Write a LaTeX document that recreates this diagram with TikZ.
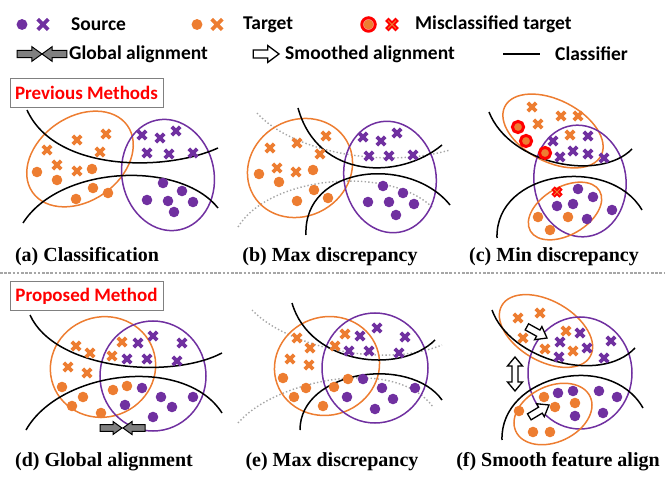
\documentclass[tikz,border=0pt]{standalone}
\usepackage{fontspec}
\setmainfont{Liberation Serif}
\newfontfamily\calfont{Carlito}
\definecolor{pur}{HTML}{7030A0}
\definecolor{org}{HTML}{ED7D31}
\definecolor{sep}{HTML}{A6A6A6}
\tikzset{
  dotm/.pic={\fill[#1] (0,0) circle[radius=5.3];},
  crossm/.pic={\draw[#1, line width=3.8pt] (-4.2,-4.2) -- (4.2,4.2) (-4.2,4.2) -- (4.2,-4.2);},
  ringm/.pic={\fill[org] (0,0) circle[radius=4.2]; \draw[red, line width=3pt] (0,0) circle[radius=5.6];},
  rcrossm/.pic={\draw[red, line width=4.8pt] (-4,-4) -- (4,4) (-4,4) -- (4,-4);
                \draw[org, line width=1pt] (-3,-3) -- (3,3) (-3,3) -- (3,-3);},
  garrow/.pic={\draw[line width=1pt, fill=gray] (0,0) -- (-9,-6.5) -- (-9,-3.3) -- (-22,-3.3) -- (-22,3.3) -- (-9,3.3) -- (-9,6.5) -- cycle;},
  oarrow/.pic={\draw[line width=1.3pt, fill=white] (0,0) -- (-10,-7.5) -- (-10,-3.5) -- (-23,-3.5) -- (-23,3.5) -- (-10,3.5) -- (-10,7.5) -- cycle;},
  odarrow/.pic={\draw[line width=1.3pt, fill=white] (0,-17) -- (7.5,-8) -- (3,-8) -- (3,8) -- (7.5,8) -- (0,17) -- (-7.5,8) -- (-3,8) -- (-3,-8) -- (-7.5,-8) -- cycle;},
}
\begin{document}
\begin{tikzpicture}[x=1pt,y=-1pt,
  cls/.style={line width=1.5pt, black},
  dots/.style={line width=1.4pt, sep, dash pattern=on 1.4pt off 2.2pt},
  oell/.style={org, line width=1.5pt},
  pell/.style={pur, line width=1.5pt},
  lbl/.style={font=\calfont\bfseries\fontsize{19.5}{23}\selectfont, anchor=west, inner sep=0},
  captxt/.style={font=\bfseries\fontsize{20}{24}\selectfont, inner sep=0},
  titlebox/.style={draw=gray, line width=0.8pt, minimum width=153, minimum height=29, inner sep=0,
     font=\calfont\bfseries\fontsize{19}{22}\selectfont, text=red}]
\useasboundingbox (0,0) rectangle (665,500);

% ---------- legend ----------
\pic[scale=1.03] at (22,24.5) {dotm=pur};
\pic[scale=1.25] at (43,24.5) {crossm=pur};
\node[lbl] (lsrc) at (71,24.5) {Source};
\pic[scale=1.03] at (197,24.5) {dotm=org};
\pic[scale=1.25] at (217,24.5) {crossm=org};
\node[lbl] (ltgt) at (243,24.5) {Target};
\pic[scale=1.2] at (368.5,24.5) {ringm};
\pic[scale=1.3] at (392,24.5) {rcrossm};
\node[lbl] (lmis) at (415,24.5) {Misclassified target};
\pic[scale=1.13] at (42,54) {garrow};
\pic[scale=1.13, rotate=180] at (42,54) {garrow};
\node[lbl] (lglob) at (69,54) {Global alignment};
\pic[scale=1.12] at (279,54) {oarrow};
\node[lbl] (lsmo) at (285,54) {Smoothed alignment};
\coordinate (lc1) at (503,54);
\coordinate (lc2) at (540,54);
\draw[line width=2pt] (lc1) -- (lc2);
\node[lbl] (lcls) at (555,54) {Classifier};

% ---------- boxes and separator ----------
\node[titlebox] (prev) at (86.5,92.5) {Previous Methods};
\node[titlebox] (prop) at (86.5,296) {Proposed Method};
\coordinate (s1) at (0,273);
\coordinate (s2) at (665,273);
\draw[line width=2.6pt, sep, dash pattern=on 2.6pt off 1.6pt] (s1) -- (s2);

% ---------- (a) ----------
\draw[oell, rotate around={35:(80,159)}] (80,159) ellipse[x radius=58, y radius=42];
\draw[pell, rotate around={12:(168,175)}] (168,175) ellipse[x radius=46, y radius=56];
\draw[cls] (27,110) .. controls (55,172) and (165,172) .. (218,148);
\draw[cls] (23,223) .. controls (60,165) and (180,160) .. (218,208);
\foreach \x/\y in {47/150, 77/140, 106/134, 100/152, 57/165, 77/171} \pic at (\x,\y) {crossm=org};
\foreach \x/\y in {37/172, 57/180, 92/169, 76/199, 93/188, 108/193} \pic at (\x,\y) {dotm=org};
\foreach \x/\y in {142/135, 160/138, 176/131, 147/153, 169/154, 193/153} \pic at (\x,\y) {crossm=pur};
\foreach \x/\y in {163/183, 182/191, 147/200, 168/201, 193/202, 174/212} \pic at (\x,\y) {dotm=pur};
\node[captxt] (capa) at (87,257) {(a) Classification};

% ---------- (b) ----------
\draw[dots] (257,113) .. controls (290,150) and (380,170) .. (450,150);
\draw[dots] (238,227) .. controls (270,175) and (390,165) .. (433,208);
\draw[oell, rotate around={30:(300,168)}] (300,168) ellipse[x radius=54, y radius=48];
\draw[pell, rotate around={10:(390,177)}] (390,177) ellipse[x radius=46, y radius=56];
\draw[cls] (298,108) .. controls (318,180) and (400,180) .. (442,145);
\draw[cls] (306,235) .. controls (303,165) and (410,155) .. (450,205);
\foreach \x/\y in {270/148, 297/143, 326/136, 320/154, 277/168, 296/172} \pic at (\x,\y) {crossm=org};
\foreach \x/\y in {259/174, 279/182, 313/170, 314/190, 297/201, 328/198} \pic at (\x,\y) {dotm=org};
\foreach \x/\y in {363/137, 381/141, 397/133, 369/156, 389/156, 413/155} \pic at (\x,\y) {crossm=pur};
\foreach \x/\y in {383/186, 403/193, 368/202, 389/202, 414/204, 396/215} \pic at (\x,\y) {dotm=pur};
\node[captxt] (capb) at (330,257) {(b) Max discrepancy};

% ---------- (c) ----------
\draw[oell, rotate around={-27:(553,131)}] (553,131) ellipse[x radius=54, y radius=31];
\draw[pell, rotate around={8:(580,181)}] (580,181) ellipse[x radius=46, y radius=56];
\draw[oell, rotate around={30:(565,211)}] (565,211) ellipse[x radius=40, y radius=24];
\draw[cls] (489,112) .. controls (510,165) and (600,182) .. (632,149);
\draw[cls] (497,238) .. controls (495,170) and (610,155) .. (642,210);
\foreach \x/\y in {532/107, 538/124, 561/116, 578/116, 570/135} \pic at (\x,\y) {crossm=org};
\foreach \x/\y in {518/127, 526/141, 545/153} \pic at (\x,\y) {ringm};
\foreach \x/\y in {553/141, 588/136, 573/151, 560/157, 588/154, 604/158} \pic at (\x,\y) {crossm=pur};
\pic at (557,192) {rcrossm};
\foreach \x/\y in {578/189, 593/197, 557/206, 573/204, 612/210, 587/219} \pic at (\x,\y) {dotm=pur};
\foreach \x/\y in {538/217, 568/217, 550/230} \pic at (\x,\y) {dotm=org};
\node[captxt] (capc) at (554,257) {(c) Min discrepancy};

% ---------- (d) ----------
\draw[oell, rotate around={20:(103,367)}] (103,367) ellipse[x radius=53, y radius=50];
\draw[pell] (153,376) ellipse[x radius=53, y radius=55];
\draw[cls] (30,315) .. controls (55,370) and (170,380) .. (222,353);
\draw[cls] (26,430) .. controls (60,370) and (185,355) .. (222,413);
\foreach \x/\y in {76/346, 90/353, 68/367, 87/373, 122/342, 112/356} \pic at (\x,\y) {crossm=org};
\foreach \x/\y in {62/387, 83/397, 72/406, 101/413, 113/390, 127/386} \pic at (\x,\y) {dotm=org};
\foreach \x/\y in {138/343, 153/336, 182/343, 127/359, 147/359, 177/361} \pic at (\x,\y) {crossm=pur};
\foreach \x/\y in {142/388, 161/397, 193/397, 125/405, 172/407, 153/417} \pic at (\x,\y) {dotm=pur};
\pic at (122,428) {garrow};
\pic[rotate=180] at (123,428) {garrow};
\node[captxt] (capd) at (104,462) {(d) Global alignment};

% ---------- (e) ----------
\draw[dots] (252,310) .. controls (285,345) and (380,370) .. (442,345);
\draw[dots] (238,423) .. controls (275,380) and (395,355) .. (433,407);
\draw[oell, rotate around={20:(327,366)}] (327,366) ellipse[x radius=53, y radius=49];
\draw[pell] (375,368) ellipse[x radius=53, y radius=55];
\draw[cls] (292,303) .. controls (310,365) and (400,375) .. (435,340);
\draw[cls] (300,430) .. controls (300,370) and (410,355) .. (442,400);
\foreach \x/\y in {297/338, 310/348, 290/359, 309/365, 345/334, 335/346} \pic at (\x,\y) {crossm=org};
\foreach \x/\y in {283/378, 306/388, 294/397, 323/406, 334/387, 348/379} \pic at (\x,\y) {dotm=org};
\foreach \x/\y in {360/336, 377/328, 405/337, 349/351, 369/351, 399/353} \pic at (\x,\y) {crossm=pur};
\foreach \x/\y in {363/379, 382/388, 415/388, 347/397, 393/399, 375/409} \pic at (\x,\y) {dotm=pur};
\node[captxt] (cape) at (332,462) {(e) Max discrepancy};

% ---------- (f) ----------
\draw[oell, rotate around={-30:(546,331)}] (546,331) ellipse[x radius=51, y radius=30];
\draw[pell] (580,373) ellipse[x radius=52, y radius=56];
\draw[oell, rotate around={25:(553,414)}] (553,414) ellipse[x radius=41, y radius=28];
\draw[cls] (492,310) .. controls (510,360) and (600,385) .. (635,348);
\draw[cls] (502,440) .. controls (500,375) and (610,350) .. (643,408);
\foreach \x/\y in {518/318, 540/313, 523/338, 545/349, 566/331, 573/351} \pic at (\x,\y) {crossm=org};
\foreach \x/\y in {580/333, 611/341, 560/342, 587/348, 559/357, 604/358} \pic at (\x,\y) {crossm=pur};
\foreach \x/\y in {544/397, 555/407, 575/403, 519/411, 533/432, 550/432} \pic at (\x,\y) {dotm=org};
\foreach \x/\y in {558/393, 573/391, 599/391, 617/397, 575/416, 603/413} \pic at (\x,\y) {dotm=pur};
\pic at (515,374) {odarrow};
\pic[rotate=-29] at (547,338) {oarrow};
\pic[rotate=31] at (549,405) {oarrow};
\node[captxt] (capf) at (558,462) {(f) Smooth feature align};
\end{tikzpicture}
\end{document}
